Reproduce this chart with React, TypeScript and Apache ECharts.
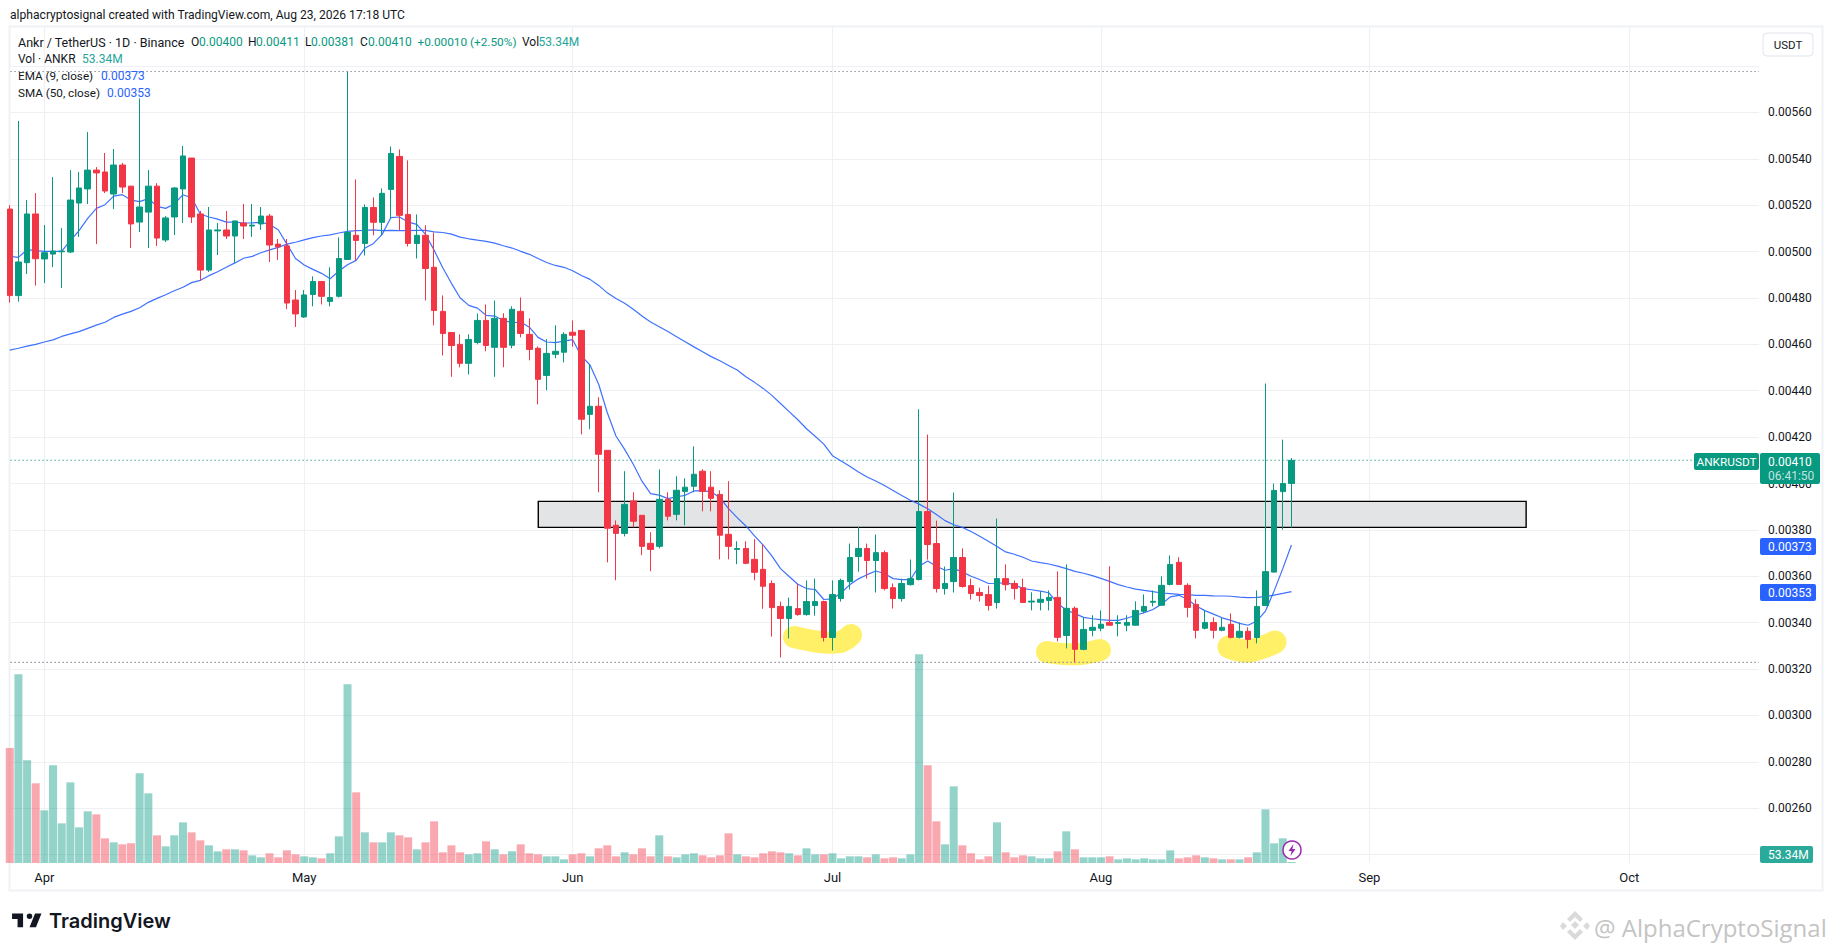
import React, { useEffect, useRef } from "react";
import * as echarts from "echarts";

// Daily bars, first bar is 4 days before 1 April. Prices are in units of 0.00001 USDT.
const FIRST_DAY = -4;
const PRICE_UNIT = 0.00001;
const openValues = [518.3,481,495.2,516.2,496.8,498.9,499.9,499.8,520.9,527,535.1,534.3,524.8,537.3,528.2,512.7,517,528.2,505,514.9,527,540.3,516.2,492,508.9,509.3,506.7,512.3,511,511.9,515.3,503.2,502.4,479.1,471.8,481.5,487.1,478.5,480.7,496.6,507,503.5,519,512.6,526.8,541,516,503.5,507,493.2,474.2,465.1,460,451.8,460.8,470.3,458.7,471.2,459.6,474.2,464.3,458.3,446.6,455.7,456.6,465.2,466,429.8,433.3,414.3,382,378.5,392.5,386.3,374.2,372.9,393.2,386.7,396.6,398.8,405.3,398.4,395.3,378.1,371.6,372,367.3,363,356.9,347,341.8,346.1,343.5,347.4,349.1,333.6,350.4,357.7,368.5,372,366.8,370.2,355.1,350.4,356.4,358.6,387.9,374.1,354.7,357.7,368.1,356,353,352.1,348.7,359,356.9,355.1,348.9,348.8,349.6,350.9,334.5,346.2,328.5,336.7,337.6,340.1,339.7,338.9,338.9,344.9,348.8,347.5,356.5,366,356.1,347.9,337.6,340.1,336.7,339.3,333.7,336.3,333.6,347.4,361.8,396.5,400];
const closeValues = [481,495.5,516.2,496.9,499.5,500.2,500.2,522.2,527.4,535.1,533.9,526.1,537.3,527.8,511.9,519.2,528.2,505.8,514.5,527.4,541.2,514.9,492,509.3,509.3,506.7,513.2,511,511.4,515.3,502.8,502,477.8,473.1,481.3,487.1,480.7,480.2,497,508.2,504.8,519,512.6,525.1,542.3,515.6,503.5,507,492.7,474.6,464.7,459.5,451.8,462.1,470.3,459.5,471.2,458.7,475.1,464.7,457.8,444.9,456.1,457,464.3,463.9,427.7,433.3,412.6,380.7,378.5,391,383.7,372.9,371.6,393.2,385.9,397.1,398.4,404,396.6,393.6,377.7,372.9,372,365.6,361.7,355.7,346.5,341.8,347,343.5,349.1,349.1,333.6,352.1,358.2,368.1,372,366.8,370.2,354.7,350.4,356.9,359,387.9,373.7,354.7,356.9,368.1,355.6,352.6,351.7,347.4,359,356.4,354.7,348.7,349.3,350.1,350.9,333.7,346.2,328.5,337.1,338,339.3,338.9,340.1,340.1,345.3,347,349.2,356.1,365.1,356.5,346.6,336.7,340.1,336.7,338,333.7,336.3,332.8,347,362,397,400,410];
const highValues = [520,556.3,522.2,525.2,511.4,532.1,510.1,535.1,534.3,551.5,536.4,542.5,544.2,538.2,528.2,566,535.1,529.5,515.3,527.8,545.5,540.3,517.5,519.2,512.3,517.5,513.2,520.5,520.5,519.2,516.2,505.4,505.4,483.4,483.4,489.3,487.1,493.2,506.1,577.6,531.1,520.3,523.3,527.2,545.3,544,539.3,516,511.3,508.2,481.1,465.1,464.3,464.3,473.3,477.2,478.9,473.4,476.4,480.2,471.2,459.1,462.2,468.2,465.2,470.3,466,451.4,437.2,414.3,384.1,405.3,396.2,386.3,379,406.1,396.2,403.1,402.2,416,406.1,405.3,397.1,401,375.1,375.1,376,373.8,358.2,349.1,350.8,356.9,358.2,359,349.5,358.2,359,374.1,381.3,374.1,378,371.1,356.9,359,367.2,432,421.1,384,364.2,396.1,372,359,355.1,356,384.9,365.1,358.2,359,353.1,353.5,353.9,362.1,365.1,347,342.3,343.2,345.3,364.3,343.2,343.2,349.2,352.2,353.9,360,369,368.2,357,350.1,345.3,342.3,342.3,344,340.1,338,353.9,443.1,400,418.9,411];
const lowValues = [478,478.4,490.3,485.3,486.4,493.3,484.3,499.4,506.3,520.5,503.2,525.2,518.3,525.2,501.5,508.4,501.5,502.4,504.1,507.1,512.3,512.3,487.3,491.2,498.5,505.4,495.1,505.4,506.3,509.3,495.5,496.4,475.2,467.5,471.4,476.4,477.2,476.4,480.2,496.6,496.2,498.3,507,507,514.3,509.1,502.2,497,478.9,468.2,455.2,446,450.1,447,460,457,446,450.1,458.3,463,453.1,434.1,440.2,454,452.2,459,421.2,423.4,396.2,366,358.3,377.2,381.1,369.1,362.2,372,384.1,384.1,382,396.2,388,388,367.3,367.3,365.2,365.2,358.3,346,334,325,333.2,343,343,343,331.9,328,349.1,354.3,362,359,353,353.9,346.1,349.1,356,358.2,367.2,353,352.1,353,355.1,350,349.1,345.2,346.1,353.9,350,348.7,345.3,345.3,345.3,332,328.9,322.9,328.1,334.1,336.3,338.9,334.1,336.3,338.9,344,347,347.5,356.1,356.5,342.3,333.2,337.1,333.2,336.3,333.2,333.2,328.9,331.1,347.4,361.8,380.1,381];
const emaValues = [497.9,497.5,500.8,500.4,500.1,500.1,500.2,504.7,509,514.3,518.6,520.2,523.9,524.5,522.2,521.5,522.8,519.5,518.6,520.5,524.5,523.2,516.2,514.9,514,512.7,512.7,512.3,512.4,512.6,511.7,509.4,503.2,497,494.2,492.3,490.6,488.3,491.6,494.3,496.2,501.4,503.5,507.4,514.6,514.9,512.7,511.7,507.4,500.6,493,486.3,480.1,476.8,475.6,472.5,472.2,470.3,469.3,469.6,467.4,463,461,460.7,461.4,462,455,451.1,442.8,430.5,420.5,414.7,408.3,401,395.6,395,393.5,394.3,394.9,396.8,396.9,396.4,393.9,389.2,385.3,381.7,377.4,373.4,368.8,363.3,359.9,356.6,354.7,354.3,350,350.3,352.8,356.4,358.9,360.7,362.3,361.2,359,358.6,358.6,364.3,366.6,364.3,362.6,363.3,361.9,360,358.6,356.9,357,357.2,356.4,354.7,354.2,353.6,352.9,348.3,345.5,343.9,342.3,341.7,341.3,341,341,341.9,343.2,344.3,345.7,348,351.1,351.8,350.1,347.2,345.2,343.7,342.1,341,339.7,338.9,340.7,345,353.7,363.3,373.5];
const smaValues = [457.5,458.3,459.2,460,461,461.9,463.4,464.5,465.5,466.9,468.3,469.5,471.6,473,474.2,475.8,478.1,479.8,481.4,483.1,484.6,486.6,487.6,489.6,491.3,493.2,495.1,497.1,497.9,499.5,500.7,501.8,503.2,504,505,506,506.7,507.2,508,508.7,509,509.1,509.3,509,509.1,509,509,509.1,509.1,508.5,508.2,507.5,506.2,505.5,504.9,504.4,503.6,502.5,501.5,500.1,498.8,497,495.3,494,493.2,491.7,489.7,488,485.4,482.2,479.8,477.7,475.1,472.2,469.6,467.6,465.5,463.3,461.1,458.9,456.8,454.7,452.9,450.9,448.9,446,443.6,441,438,434.5,431,427.5,423.6,420.4,417,412,409.7,407.4,405,402.8,401.1,399.1,397,394.8,392.8,391.1,389.1,386.6,384,382.2,381.1,379.3,377.3,375.1,372.8,370.5,369.5,368.2,366.6,365.9,365.3,364.4,363.3,362.1,361.3,360.3,359.1,357.8,356.4,355.4,354.5,353.9,353.4,352.8,352.5,352.2,352.1,351.8,351.8,351.6,351.5,351.4,351,350.8,350.9,351.2,351.9,352.6,353.4];
const volumeValues = [6210,10188,5544,4302,2844,5274,2142,4356,1926,2790,2628,1332,1116,1008,1062,4842,3762,1494,900,1494,2196,1656,1224,954,630,738,738,684,414,306,522,306,684,468,360,306,252,522,1440,9648,3816,1656,1116,1116,1656,1494,1386,738,1116,2250,576,954,576,468,522,1170,738,468,630,1008,522,468,360,360,198,468,522,360,792,954,360,576,468,792,360,1494,360,306,468,522,414,306,414,1602,468,360,306,522,630,576,522,414,792,468,468,522,252,360,360,306,468,252,306,252,468,11268,5274,2250,1008,4140,954,522,198,360,2196,576,306,414,360,252,252,630,1710,738,306,306,306,360,198,252,198,252,198,198,684,252,306,414,306,252,198,198,198,306,576,2898,1062,1332,53.34];

const monthTicks = [0, 30, 61, 91, 122, 153, 183];
const monthLabels = ["Apr", "May", "Jun", "Jul", "Aug", "Sep", "Oct"];
const priceTicks = [240,260,280,300,320,340,360,380,400,420,440,460,480,500,520,540,560,580];
const labelledPrices = [260,280,300,320,340,360,380,400,420,440,460,480,500,520,540,560];
const zoneBounds = { fromDay: 57.03, toDay: 171.1, top: 392.3, bottom: 381.1 };
const lastPrice = 410;
const xMin = -3.915;
const xMax = 197.99;

const UP = "#089981";
const DOWN = "#F23645";
const BLUE = "#2962FF";
const FONT = "Roboto, sans-serif";
const price = (v: number) => v * PRICE_UNIT;

echarts.graphic.registerShape(
  "tvLogoMark",
  echarts.graphic.extendPath("M14 6H2v6h6v9h6V6zm14 15h-7l6-15h7l-6 15zm-7-9a3 3 0 1 0 0-6 3 3 0 0 0 0 6z", {}) as any
);

function text(str: string, x: number, y: number, fill: string, size = 12, align = "left", extra: any = {}) {
  return {
    type: "text",
    z: 60,
    style: {
      text: str, x, y, fill,
      font: `${extra.weight || "normal"} ${size}px ${extra.family || FONT}`,
      align, verticalAlign: "middle",
      textAlign: align, textVerticalAlign: "middle",
      opacity: extra.opacity ?? 1,
    },
  };
}

function tag(x: number, y: number, w: number, h: number, fill: string) {
  return { type: "rect", z: 55, shape: { x, y, width: w, height: h, r: 2 }, style: { fill } };
}

function blob(points: number[][], width: number) {
  return {
    type: "polyline",
    z: 1,
    shape: { points, smooth: 0.4 },
    style: { stroke: "#FFF068", lineWidth: width, lineCap: "round", lineJoin: "round", fill: "none" },
  };
}

function levelSeries(name: string, value: number, color: string) {
  return {
    name,
    type: "line",
    z: 3,
    showSymbol: false,
    silent: true,
    data: [[xMin, value], [xMax, value]],
    lineStyle: { color, width: 1.1, type: [1.2, 2.8] },
  };
}

export default function App() {
  const ref = useRef<HTMLDivElement>(null);

  useEffect(() => {
    document.body.style.margin = "0";
    if (!ref.current) return;
    const chart = echarts.init(ref.current, undefined, { renderer: "svg" });

    const days = openValues.map((_, i) => FIRST_DAY + i);
    const candles = days.map((d, i) => [
      d,
      price(openValues[i]),
      price(closeValues[i]),
      price(lowValues[i]),
      price(highValues[i]),
    ]);
    const pair = (values: number[]) => days.map((d, i) => [d, price(values[i])]);
    const maxHigh = price(Math.max(...highValues));
    const minLow = price(Math.min(...lowValues));

    const option: any = {
      animation: false,
      backgroundColor: "#ffffff",
      grid: { left: 10.5, top: 27, width: 1748.5, height: 836, containLabel: false },
      xAxis: {
        type: "value",
        min: xMin,
        max: xMax,
        axisLine: { show: false },
        axisTick: { show: false, customValues: monthTicks },
        axisLabel: {
          customValues: monthTicks,
          formatter: (v: number) => monthLabels[monthTicks.indexOf(v)] ?? "",
          color: "#131722",
          fontFamily: FONT,
          fontSize: 13,
          margin: 8,
        },
        splitLine: { show: true, lineStyle: { color: "#eff0f3", width: 1.2 } },
      },
      yAxis: [
        {
          type: "value",
          position: "right",
          min: 0.002364,
          max: 0.005968,
          axisLine: { show: false },
          axisTick: { show: false, customValues: priceTicks.map(price) },
          axisLabel: {
            customValues: labelledPrices.map(price),
            formatter: (v: number) => v.toFixed(5),
            color: "#131722",
            fontFamily: FONT,
            fontSize: 12,
            margin: 9,
          },
          splitLine: { show: true, lineStyle: { color: "#eff0f3", width: 1.2 } },
        },
        { type: "value", show: false, min: 0, max: 45144, splitLine: { show: false } },
      ],
      series: [
        {
          name: "Vol",
          type: "bar",
          yAxisIndex: 1,
          z: 1,
          barWidth: 8,
          data: days.map((d, i) => [d, volumeValues[i]]),
          itemStyle: {
            opacity: 0.43,
            color: (p: any) => (closeValues[p.dataIndex] >= openValues[p.dataIndex] ? UP : DOWN),
          },
        },
        {
          name: "Zone",
          type: "line",
          z: 1,
          data: [],
          markArea: {
            silent: true,
            z: 1,
            itemStyle: { color: "#E3E4E6", borderColor: "#000000", borderWidth: 1.4 },
            data: [[
              { xAxis: zoneBounds.fromDay, yAxis: price(zoneBounds.top) },
              { xAxis: zoneBounds.toDay, yAxis: price(zoneBounds.bottom) },
            ]],
          },
        },
        levelSeries("High", maxHigh, "#787b86"),
        levelSeries("Low", minLow, "#787b86"),
        levelSeries("Last", price(lastPrice), UP),
        {
          name: "SMA (50, close)",
          type: "line",
          z: 2,
          data: pair(smaValues),
          showSymbol: false,
          lineStyle: { color: BLUE, width: 1.2, opacity: 0.9 },
        },
        {
          name: "EMA (9, close)",
          type: "line",
          z: 2,
          data: pair(emaValues),
          showSymbol: false,
          lineStyle: { color: BLUE, width: 1.2, opacity: 0.9 },
        },
        {
          name: "Ankr / TetherUS",
          type: "candlestick",
          z: 5,
          barWidth: 6,
          data: candles,
          itemStyle: { color: UP, color0: DOWN, borderColor: UP, borderColor0: DOWN, borderWidth: 1 },
        },
      ],
      graphic: [
        { type: "rect", z: 0, silent: true, shape: { x: 9.5, y: 26.5, width: 1813, height: 864 }, style: { fill: "none", stroke: "#F0F1F4", lineWidth: 2 } },
        blob([[794, 637], [820, 642], [840, 642], [851, 635]], 22),
        blob([[1047, 652], [1063, 654], [1080, 654], [1100, 650]], 22),
        blob([[1229, 647], [1247, 651], [1266, 646], [1275, 642]], 23),

        text("alphacryptosignal created with TradingView.com, Aug 23, 2026 17:18 UTC", 10, 15, "#131722", 12.1),

        text("Ankr / TetherUS · 1D · Binance", 18, 42, "#131722", 12.5),
        text("O", 191, 42, "#131722"), text("0.00400", 199, 42, UP),
        text("H", 248, 42, "#131722"), text("0.00411", 256, 42, UP),
        text("L", 305, 42, "#131722"), text("0.00381", 311, 42, UP),
        text("C", 360, 42, "#131722"), text("0.00410", 368, 42, UP),
        text("+0.00010 (+2.50%)", 417.5, 42, UP, 11.8),
        text("Vol", 522, 42, "#131722", 12), text("53.34M", 538.5, 42, "#26A69A"),
        text("Vol · ANKR", 18, 59, "#131722", 12), text("53.34M", 82, 59, "#26A69A"),
        text("EMA (9, close)", 18, 76, "#131722", 11.7), text("0.00373", 101, 76, BLUE),
        text("SMA (50, close)", 18, 93, "#131722", 11.7), text("0.00353", 107, 93, BLUE),

        { type: "rect", z: 50, shape: { x: 1763, y: 33, width: 50, height: 23, r: 4 }, style: { fill: "#fff", stroke: "#E0E3EB", lineWidth: 1 } },
        text("USDT", 1788, 45, "#131722", 11.5, "center"),

        tag(1694, 453, 65, 17, UP),
        text("ANKRUSDT", 1726.5, 461.5, "#fff", 11.8, "center"),
        tag(1760, 453, 60, 31, UP),
        text("0.00410", 1768, 461.5, "#fff", 12),
        text("06:41:50", 1768, 476, "#fff", 12, "left", { opacity: 0.75 }),
        tag(1760, 538, 56, 17, BLUE),
        text("0.00373", 1768, 546.5, "#fff", 12),
        tag(1760, 584, 56, 17, BLUE),
        text("0.00353", 1768, 592.5, "#fff", 12),
        tag(1760, 846, 53, 17, "#2BA99A"),
        text("53.34M", 1768, 854.5, "#fff", 12),

        { type: "circle", z: 40, shape: { cx: 1292, cy: 850, r: 9 }, style: { fill: "#ffffff", stroke: "#9C27B0", lineWidth: 1.5 } },
        { type: "polygon", z: 41, shape: { points: [[1293.5, 844], [1288.5, 851], [1291.6, 851], [1290.5, 856], [1295.5, 849], [1292.4, 849]] }, style: { fill: "#9C27B0" } },

        { type: "tvLogoMark", z: 60, x: 10.2, y: 908, scaleX: 0.92, scaleY: 0.92, style: { fill: "#131722" } },
        text("TradingView", 49, 920.5, "#131722", 20, "left", { weight: 600, family: "Inter, sans-serif" }),

        { type: "polygon", z: 60, shape: { points: [[1575, 911], [1583, 919], [1580, 922], [1575, 917], [1570, 922], [1567, 919]] }, style: { fill: "#DADADA" } },
        { type: "polygon", z: 60, shape: { points: [[1575, 921], [1579, 925], [1575, 929], [1571, 925]] }, style: { fill: "#DADADA" } },
        { type: "polygon", z: 60, shape: { points: [[1563, 922], [1567, 926], [1563, 930], [1560, 926]] }, style: { fill: "#DADADA" } },
        { type: "polygon", z: 60, shape: { points: [[1587, 922], [1590, 926], [1587, 930], [1583, 926]] }, style: { fill: "#DADADA" } },
        { type: "polygon", z: 60, shape: { points: [[1575, 940], [1567, 932], [1570, 929], [1575, 934], [1580, 929], [1583, 932]] }, style: { fill: "#DADADA" } },
        text("@ AlphaCryptoSignal", 1594, 927, "#C4C4C4", 24, "left", { family: "'Open Sans', sans-serif" }),
      ],
    };
    chart.setOption(option);
    return () => chart.dispose();
  }, []);

  return <div ref={ref} style={{ position: "absolute", left: 0, top: 0, width: 1835, height: 951 }} />;
}
